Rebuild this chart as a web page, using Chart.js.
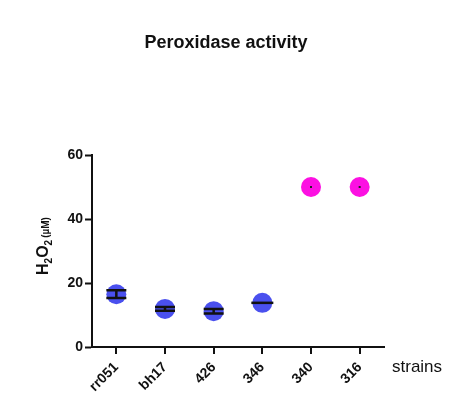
<!DOCTYPE html>
<html>
<head>
<meta charset="utf-8">
<script src="https://cdn.jsdelivr.net/npm/chart.js@4.4.1/dist/chart.umd.min.js"></script>
<style>
html,body{margin:0;padding:0;background:#fff;}
#wrap{width:474px;height:414px;position:relative;}
</style>
</head>
<body>
<div id="wrap"><canvas id="c" width="474" height="414"></canvas></div>
<script>
// Data
const strains = ['rr051', 'bh17', '426', '346', '340', '316'];
const means   = [16.5, 11.9, 11.2, 13.8, 50, 50];
const sds     = [1.2, 0.6, 0.7, 0, 0, 0];
const groups  = ['A', 'A', 'A', 'A', 'B', 'B'];
const yTicks  = [0, 20, 40, 60];

const groupColor = { A: '#4a50ee', B: '#fc10e2' };

const errorBars = {
  id: 'errorBars',
  afterDatasetsDraw(chart) {
    const ctx = chart.ctx, xs = chart.scales.x, ys = chart.scales.y;
    ctx.save();
    ctx.strokeStyle = '#111';
    ctx.fillStyle = '#222';
    means.forEach((m, i) => {
      const x = xs.getPixelForValue(i);
      const ym = ys.getPixelForValue(m);
      if (groups[i] === 'B') {
        ctx.fillRect(x - 1, ym - 1, 2, 2);
        return;
      }
      const yt = ys.getPixelForValue(m + sds[i]);
      const yb = ys.getPixelForValue(m - sds[i]);
      ctx.lineWidth = 2.5;
      ctx.beginPath();
      if (sds[i] > 0) {
        ctx.moveTo(x - 10, yt); ctx.lineTo(x + 10, yt);
        ctx.moveTo(x - 10, yb); ctx.lineTo(x + 10, yb);
        ctx.moveTo(x, yt); ctx.lineTo(x, yb);
      } else {
        ctx.moveTo(x - 11, ym); ctx.lineTo(x + 11, ym);
      }
      ctx.stroke();
    });
    ctx.restore();
  }
};

const labelsPlugin = {
  id: 'labelsPlugin',
  afterDraw(chart) {
    const ctx = chart.ctx, ca = chart.chartArea;
    ctx.save();
    ctx.fillStyle = '#111';
    // Title
    ctx.font = 'bold 18px "Liberation Sans", Arial, sans-serif';
    ctx.textAlign = 'center';
    ctx.textBaseline = 'middle';
    ctx.fillText('Peroxidase activity', 226, 43);
    // x-axis title
    ctx.font = '17px "Liberation Sans", Arial, sans-serif';
    ctx.textAlign = 'left';
    ctx.fillText('strains', 392, ca.bottom + 20);
    // y-axis title with subscripts
    ctx.translate(42, (ca.top + ca.bottom) / 2 - 5);
    ctx.rotate(-Math.PI / 2);
    const big = 'bold 16px "Liberation Sans", Arial, sans-serif';
    const sub = 'bold 10px "Liberation Sans", Arial, sans-serif';
    const parts = [
      ['H', big, 0, 0], ['2', sub, 4, 0], ['O', big, 0, 0], ['2', sub, 4, 2], ['(\u00b5M)', sub, 1, 0]
    ];
    let total = 0;
    parts.forEach(p => { ctx.font = p[1]; total += ctx.measureText(p[0]).width + p[3]; });
    let x = -total / 2;
    ctx.textAlign = 'left';
    ctx.textBaseline = 'alphabetic';
    parts.forEach(p => {
      ctx.font = p[1];
      ctx.fillText(p[0], x, 6 + p[2]);
      x += ctx.measureText(p[0]).width + p[3];
    });
    ctx.restore();
  }
};

new Chart(document.getElementById('c'), {
  type: 'line',
  data: {
    labels: strains,
    datasets: [{
      data: means,
      showLine: false,
      pointRadius: 10,
      pointHoverRadius: 10,
      pointBorderWidth: 0,
      pointBackgroundColor: groups.map(g => groupColor[g]),
      pointBorderColor: groups.map(g => groupColor[g])
    }]
  },
  options: {
    responsive: false,
    animation: false,
    events: [],
    layout: { padding: { left: 0, top: 155, right: 90, bottom: 0 } },
    plugins: { legend: { display: false }, tooltip: { enabled: false }, title: { display: false } },
    scales: {
      x: {
        type: 'category',
        offset: true,
        grid: { display: true, drawOnChartArea: false, drawTicks: true, tickLength: 7, tickColor: '#111', lineWidth: 2, tickWidth: 2, offset: false },
        border: { display: true, color: '#111', width: 2 },
        ticks: {
          color: '#111', minRotation: 45, maxRotation: 45, padding: 5,
          font: { family: '"Liberation Sans", Arial, sans-serif', size: 14, weight: 'bold' }
        },
        afterFit(s) { s.height = 67; }
      },
      y: {
        min: 0, max: 60,
        afterBuildTicks(s) { s.ticks = yTicks.map(v => ({ value: v })); },
        grid: { display: true, drawOnChartArea: false, drawTicks: true, tickLength: 7, tickColor: '#111', tickWidth: 2 },
        border: { display: true, color: '#111', width: 2 },
        ticks: {
          color: '#111', padding: 2,
          font: { family: '"Liberation Sans", Arial, sans-serif', size: 14, weight: 'bold' }
        },
        afterFit(s) { s.width = 92; }
      }
    }
  },
  plugins: [errorBars, labelsPlugin]
});
</script>
</body>
</html>
